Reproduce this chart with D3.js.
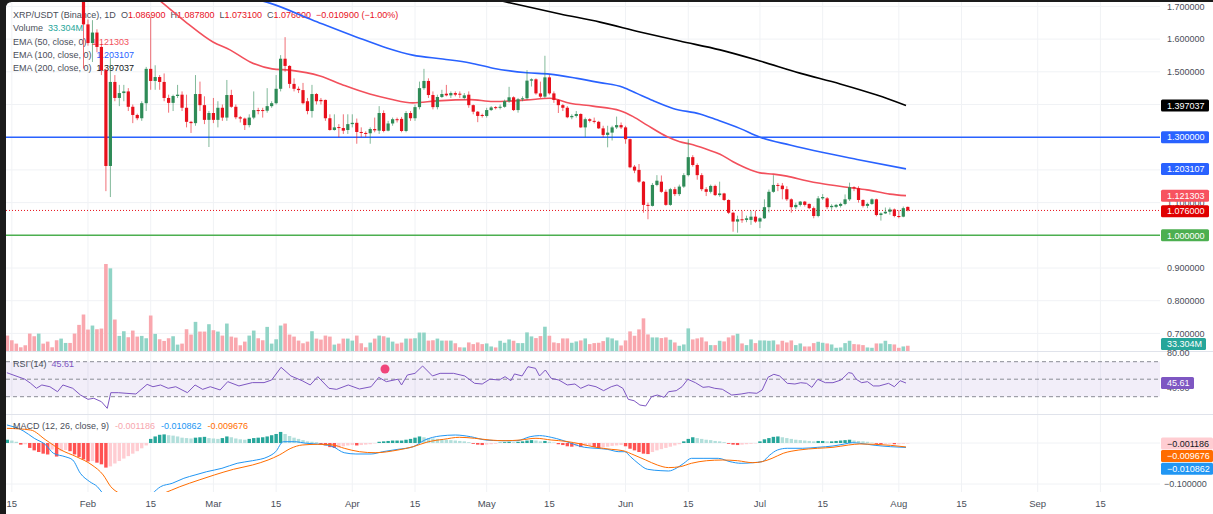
<!DOCTYPE html>
<html lang="en">
<head>
  <meta charset="UTF-8" />
  <title>XRP/USDT 1D</title>
  <script src="https://d3js.org/d3.v7.min.js"></script>
  <style>
    body { margin: 0; background: #1b1b1b; }
    svg text { font-family: "Liberation Sans", Arial, sans-serif; font-size: 9px; }
  </style>
</head>
<body>
  <svg id="chart" width="1213" height="514"></svg>

  <script>
    // ---- data (day 0 = 1 Feb) ----
    const candleStartDay = -1;
    const opens = [1.78,1.645,1.588,1.62,1.576,1.505,1.212,1.469,1.42,1.435,1.44,1.393,1.368,1.358,1.404,1.509,1.472,1.484,1.469,1.42,1.405,1.426,1.43,1.39,1.347,1.343,1.432,1.398,1.353,1.374,1.353,1.39,1.36,1.429,1.393,1.361,1.357,1.337,1.36,1.383,1.383,1.381,1.395,1.404,1.448,1.54,1.518,1.463,1.448,1.444,1.41,1.38,1.432,1.414,1.414,1.358,1.322,1.331,1.328,1.322,1.34,1.344,1.316,1.313,1.312,1.325,1.32,1.374,1.32,1.342,1.355,1.356,1.319,1.374,1.358,1.392,1.45,1.472,1.429,1.392,1.423,1.433,1.428,1.435,1.433,1.42,1.43,1.398,1.378,1.368,1.365,1.383,1.392,1.39,1.393,1.41,1.422,1.383,1.416,1.419,1.473,1.477,1.434,1.424,1.483,1.434,1.414,1.398,1.39,1.361,1.365,1.371,1.33,1.355,1.35,1.347,1.327,1.307,1.314,1.33,1.337,1.33,1.294,1.21,1.2,1.164,1.093,1.09,1.154,1.164,1.133,1.093,1.141,1.126,1.149,1.184,1.239,1.215,1.184,1.141,1.133,1.151,1.123,1.128,1.108,1.069,1.042,1.049,1.047,1.047,1.057,1.042,1.052,1.086,1.133,1.154,1.152,1.141,1.11,1.086,1.093,1.103,1.096,1.083,1.059,1.113,1.113,1.086,1.087,1.09,1.096,1.11,1.147,1.144,1.108,1.09,1.096,1.11,1.062,1.067,1.072,1.079,1.059,1.057,1.0869];
    const highs = [1.79,1.66,1.658,1.63,1.585,1.51,1.542,1.49,1.46,1.46,1.45,1.4,1.372,1.41,1.515,1.668,1.52,1.49,1.495,1.43,1.43,1.46,1.44,1.43,1.35,1.49,1.47,1.425,1.38,1.42,1.41,1.4,1.475,1.445,1.4,1.365,1.36,1.37,1.44,1.39,1.39,1.45,1.41,1.49,1.551,1.606,1.52,1.48,1.455,1.466,1.42,1.46,1.435,1.42,1.415,1.37,1.37,1.34,1.37,1.37,1.37,1.357,1.33,1.318,1.33,1.36,1.395,1.382,1.35,1.36,1.36,1.362,1.38,1.38,1.4,1.47,1.509,1.48,1.44,1.43,1.445,1.46,1.44,1.44,1.44,1.435,1.44,1.4,1.38,1.372,1.39,1.395,1.395,1.4,1.415,1.454,1.425,1.42,1.425,1.505,1.48,1.48,1.47,1.549,1.49,1.44,1.416,1.402,1.395,1.37,1.38,1.373,1.36,1.358,1.36,1.35,1.335,1.335,1.335,1.363,1.345,1.335,1.296,1.215,1.218,1.166,1.1,1.16,1.184,1.183,1.14,1.145,1.148,1.155,1.19,1.294,1.245,1.22,1.19,1.147,1.155,1.155,1.164,1.13,1.11,1.072,1.06,1.075,1.06,1.075,1.075,1.055,1.11,1.14,1.184,1.16,1.16,1.15,1.113,1.1,1.105,1.105,1.097,1.088,1.12,1.126,1.117,1.095,1.096,1.1,1.125,1.161,1.15,1.15,1.11,1.1,1.113,1.112,1.07,1.085,1.085,1.082,1.077,1.088,1.0878];
    const lows = [1.51,1.58,1.53,1.56,1.49,1.135,1.117,1.41,1.395,1.41,1.38,1.343,1.352,1.35,1.38,1.445,1.445,1.445,1.41,1.375,1.38,1.42,1.38,1.33,1.313,1.335,1.38,1.34,1.27,1.343,1.33,1.35,1.35,1.39,1.355,1.345,1.322,1.33,1.355,1.37,1.36,1.375,1.39,1.4,1.44,1.5,1.45,1.44,1.435,1.4,1.37,1.36,1.4,1.4,1.35,1.32,1.32,1.3,1.31,1.31,1.33,1.28,1.3,1.3,1.28,1.315,1.31,1.315,1.318,1.335,1.345,1.315,1.315,1.35,1.35,1.385,1.445,1.42,1.385,1.385,1.42,1.425,1.42,1.425,1.42,1.415,1.39,1.37,1.346,1.36,1.36,1.38,1.385,1.385,1.39,1.405,1.38,1.375,1.41,1.415,1.455,1.43,1.42,1.42,1.43,1.405,1.374,1.38,1.358,1.355,1.36,1.328,1.3,1.345,1.342,1.325,1.3,1.269,1.29,1.325,1.325,1.28,1.205,1.19,1.16,1.069,1.049,1.088,1.15,1.13,1.09,1.09,1.12,1.12,1.145,1.18,1.21,1.17,1.135,1.12,1.128,1.12,1.118,1.105,1.065,1.011,1.008,1.038,1.04,1.032,1.038,1.022,1.05,1.07,1.13,1.135,1.11,1.105,1.069,1.08,1.088,1.088,1.08,1.052,1.055,1.108,1.08,1.078,1.083,1.085,1.092,1.105,1.135,1.1,1.085,1.083,1.093,1.058,1.045,1.065,1.063,1.055,1.052,1.055,1.0731];
    const closes = [1.645,1.588,1.62,1.576,1.505,1.212,1.469,1.42,1.435,1.44,1.393,1.368,1.358,1.404,1.509,1.472,1.484,1.469,1.42,1.405,1.426,1.43,1.39,1.347,1.343,1.432,1.398,1.353,1.374,1.353,1.39,1.36,1.429,1.393,1.361,1.357,1.337,1.36,1.383,1.381,1.381,1.395,1.404,1.448,1.54,1.518,1.463,1.448,1.444,1.404,1.38,1.432,1.41,1.41,1.358,1.322,1.33,1.328,1.32,1.34,1.344,1.316,1.313,1.312,1.325,1.321,1.374,1.319,1.342,1.355,1.353,1.319,1.374,1.358,1.392,1.45,1.472,1.429,1.392,1.423,1.432,1.428,1.435,1.43,1.43,1.428,1.398,1.378,1.365,1.365,1.383,1.391,1.39,1.393,1.41,1.422,1.383,1.416,1.419,1.473,1.477,1.434,1.424,1.483,1.434,1.414,1.398,1.39,1.361,1.365,1.371,1.33,1.355,1.35,1.347,1.327,1.307,1.314,1.33,1.337,1.33,1.294,1.208,1.198,1.164,1.093,1.09,1.154,1.167,1.133,1.093,1.141,1.126,1.149,1.184,1.239,1.215,1.184,1.141,1.133,1.151,1.123,1.128,1.108,1.069,1.042,1.049,1.047,1.052,1.057,1.042,1.052,1.086,1.133,1.154,1.152,1.141,1.11,1.086,1.093,1.103,1.093,1.083,1.059,1.113,1.117,1.086,1.09,1.093,1.096,1.11,1.147,1.144,1.108,1.09,1.096,1.11,1.062,1.067,1.072,1.079,1.059,1.057,1.083,1.076];

    // volume in millions, from day -18
    const volStartDay = -18;
    const volumes = [94,66,46,24,36,106,90,106,46,58,24,66,76,50,50,106,158,220,130,154,132,136,522,496,190,92,120,84,124,88,92,78,214,104,72,62,78,90,40,46,132,100,176,118,118,162,126,118,94,166,88,82,36,58,94,124,78,66,146,46,72,154,166,100,88,64,48,58,120,76,70,94,88,40,46,76,76,64,94,48,24,52,76,94,90,82,58,46,52,76,76,78,112,112,64,66,76,64,64,64,48,24,
      23,53,43,53,43,47,29,23,63,51,71,63,49,49,113,89,79,91,147,93,53,49,77,77,51,59,65,77,43,49,51,61,83,77,65,35,65,119,93,131,197,101,83,83,79,83,69,53,33,41,137,71,77,83,59,37,37,63,59,83,95,105,47,37,71,49,65,65,63,65,41,63,53,65,37,47,29,29,49,57,51,47,41,21,23,49,63,43,41,37,23,21,47,47,63,43,41,21,29,33.304];
    // direction of the January bars (before the first visible candle)
    const janVolUp = [0,0,0,0,0,0,0,1,0,0,0,0,1,1,0,0,0];

    // EMA lines [day, price]
    const ema50 = [[13.8,1.744],[16.7,1.71],[22.1,1.649],[27.9,1.591],[31.7,1.567],[36.2,1.53],[41.1,1.509],[45.1,1.505],[51.8,1.487],[56.9,1.46],[62.9,1.432],[67.4,1.417],[72.5,1.405],[77.9,1.411],[85.3,1.415],[90.4,1.409],[98,1.414],[103.1,1.419],[107.6,1.404],[112.7,1.395],[118.8,1.381],[121.7,1.363],[124.8,1.337],[129.2,1.302],[132.1,1.286],[134.4,1.279],[138.1,1.263],[141.1,1.248],[144,1.225],[147,1.205],[150,1.191],[153,1.187],[156,1.181],[160.4,1.167],[163.4,1.159],[169.4,1.147],[173.9,1.139],[179,1.126],[182.6,1.121303]];
    const ema100 = [[36.2,1.726],[40.6,1.71],[50.2,1.658],[60,1.606],[66.7,1.573],[72.5,1.551],[79.2,1.539],[85.3,1.527],[90.4,1.511],[98,1.497],[103.1,1.493],[109.2,1.48],[114.3,1.467],[119.4,1.453],[122.5,1.434],[126.1,1.412],[130.6,1.388],[136.6,1.371],[140.4,1.353],[145.5,1.327],[150,1.3],[156.7,1.276],[164.1,1.253],[171.7,1.232],[182.6,1.203107]];
    const ema200 = [[87.5,1.732],[96.4,1.704],[105.4,1.677],[114.3,1.652],[123.2,1.622],[132.1,1.594],[141.1,1.567],[150,1.533],[158.9,1.496],[167.9,1.463],[176.1,1.429],[182.6,1.397037]];

    const supportLevel = 1.0;
    const resistLevel = 1.3;

    // RSI (14) [day, value]
    const rsi = [[-18.1,57.4],[-14.1,50],[-12.8,45.3],[-11.5,39.6],[-10.3,43.4],[-8.5,41.4],[-6.8,35.7],[-5.6,43.4],[-3.4,39.6],[-1.7,32],[0,27],[1.3,28.2],[3,24.3],[4.3,16.7],[5.1,34.6],[6.8,34.6],[8.5,33.9],[10.7,33.1],[13.2,44.1],[14.5,41.4],[16.2,43.4],[17.9,39.6],[19.6,41.4],[22.2,34.6],[23.9,43.4],[25.6,38.4],[27.3,41.4],[29.5,37.7],[31.2,47.2],[33.7,42.3],[36.7,46.1],[39.3,46.1],[41,49.1],[43.1,63.6],[45.3,53.7],[47.8,48.3],[49.6,43.4],[51.3,52.9],[53.8,39.6],[55.5,38.4],[58.1,43.4],[60.6,38.8],[63.2,41.4],[64.9,52.1],[66.6,47.2],[69.2,50],[70,43.4],[71.3,54.8],[73,56.7],[74.7,65.1],[76.9,53.7],[78.6,56.7],[81.6,56.7],[84.1,53.7],[86.3,45.3],[88,44.5],[89.7,50],[91.8,49.1],[93.1,52.9],[94.4,48.3],[95.2,56],[96.9,53.7],[98.2,64.3],[99.9,62.4],[100.8,53.7],[102.1,60.5],[103.4,51],[105.1,49.1],[107,43.4],[108.7,44.5],[110,39.6],[111.7,43.4],[113.4,41.4],[115.1,36.9],[116.8,41.4],[118.1,43.4],[119.4,39.6],[120.6,27],[121.9,25.4],[123.2,20.5],[124.5,19.4],[125.8,30],[127.1,31.9],[128.6,29.3],[129.6,35.7],[131.3,36.9],[132.6,41.4],[133.9,49.9],[135.6,46],[137.3,40.7],[138.6,41.4],[139.9,39.6],[141.6,38.5],[143.7,31.9],[145.8,33.1],[147.5,34.6],[149.3,33.9],[150.5,37.7],[151.8,52.2],[153.1,55.6],[154.4,53.7],[156.1,45.3],[157.8,44.5],[159.1,46],[160.4,45.3],[161.6,40.7],[162.9,49.9],[164.6,46],[166.3,46],[168.1,49.1],[169.8,57.5],[170.6,56.7],[171.5,49.9],[172.7,46],[174,47.2],[175.3,42.3],[176.6,42.3],[178.7,45.3],[180,41.4],[181.3,48.3],[182.6,45.61]];
    const rsiAlert = [66.3, 61.7];

    // MACD (12, 26, 9) [day, value]
    const macdLine = [[-18.1,0.044],[-14.5,0.03],[-12,0.0115],[-9.4,-0.0049],[-7.7,-0.0251],[-5.1,-0.0334],[-3.4,-0.0415],[-1.7,-0.0739],[0.4,-0.0944],[2.1,-0.1066],[3.3,-0.1227],[5,-0.14],[7,-0.152],[9,-0.156],[11,-0.15],[13,-0.135],[14.4,-0.1227],[16.2,-0.1066],[18.8,-0.0983],[21.4,-0.0861],[23.9,-0.078],[26.5,-0.07],[29.9,-0.0617],[33.3,-0.0495],[36.7,-0.0432],[40.2,-0.0334],[41.9,-0.0212],[43.6,0.0032],[46.1,0.0032],[48.7,-0.0007],[52.1,-0.0032],[54.7,-0.009],[57.2,-0.0237],[59.8,-0.0268],[63.2,-0.0268],[65.8,-0.0212],[69.2,-0.0154],[72.6,-0.009],[75.2,0.0073],[78.6,0.0171],[82,0.0195],[85.4,0.0154],[88.8,0.0073],[92.3,0.0056],[95.7,0.0056],[98.7,0.0154],[100.8,0.018],[103.4,0.0139],[105.7,0.0073],[108.3,-0.0024],[110.8,-0.0105],[113.4,-0.0129],[115.9,-0.0154],[118.5,-0.0212],[119.8,-0.0212],[121.1,-0.0334],[122.8,-0.0495],[124.9,-0.0641],[127.9,-0.0675],[129.6,-0.0683],[131.3,-0.0617],[133,-0.0495],[134.7,-0.0374],[137.3,-0.0374],[140.7,-0.0374],[143.3,-0.0455],[145.8,-0.0495],[148.4,-0.048],[150.5,-0.0455],[152.2,-0.0293],[153.9,-0.0171],[156.1,-0.0129],[159.5,-0.0129],[162.9,-0.0105],[166.3,-0.0073],[168.9,-0.0024],[170.6,0.0007],[172.3,-0.0007],[175.7,-0.0057],[179.2,-0.009],[182.6,-0.010862]];
    const signalLine = [[-18.1,0.0358],[-12.8,0.0317],[-9.4,0.0073],[-6,-0.0171],[-2.6,-0.0334],[0.9,-0.0537],[3.4,-0.078],[5.1,-0.1066],[7,-0.1227],[9,-0.132],[11,-0.137],[13,-0.136],[15,-0.13],[16.9,-0.1227],[20.5,-0.1066],[24.8,-0.0902],[28.2,-0.078],[32.5,-0.0641],[36.7,-0.0537],[40.2,-0.0415],[42.7,-0.0293],[45.3,-0.0129],[47.8,-0.0049],[51.3,-0.0032],[54.7,-0.0049],[57.2,-0.0129],[60.6,-0.0212],[64.1,-0.0237],[69.2,-0.0171],[72.6,-0.009],[76,0.0032],[79.4,0.009],[82.9,0.0139],[86.3,0.0115],[89.7,0.0073],[93.1,0.0056],[96.5,0.0073],[100,0.0115],[103.4,0.0073],[106.7,0.004],[110,-0.0024],[113.4,-0.0105],[116.8,-0.0154],[119.4,-0.0187],[121.9,-0.0293],[124.5,-0.0415],[127.1,-0.0537],[129.6,-0.06],[132.2,-0.0577],[134.7,-0.0495],[138.1,-0.0432],[141.6,-0.0415],[145,-0.0432],[148.4,-0.048],[150.5,-0.0455],[152.7,-0.0374],[155.2,-0.0251],[158.7,-0.0171],[162.9,-0.0129],[166.3,-0.0105],[169.8,-0.0049],[172.3,-0.0024],[175.7,-0.0032],[179.2,-0.0057],[182.6,-0.009676]];
    // histogram, one value per day from day -18
    const macdHist = [0.008,0.006,0.003,-0.004,-0.003,-0.012,-0.018,-0.022,-0.026,-0.028,
      -0.016,-0.033,-0.02,-0.017,-0.02,-0.028,-0.034,-0.04,-0.045,-0.044,
      -0.048,-0.052,-0.06,-0.057,-0.05,-0.044,-0.038,-0.032,-0.026,-0.02,
      -0.013,-0.006,0.01,0.016,0.02,0.021,0.019,0.018,0.016,0.013,
      0.012,0.011,0.013,0.014,0.015,0.012,0.011,0.01,0.012,0.016,
      0.014,0.011,0.009,0.008,0.01,0.012,0.013,0.014,0.016,0.019,
      0.022,0.027,0.022,0.017,0.013,0.01,0.007,0.004,0.003,0.002,
      -0.003,-0.006,-0.01,-0.012,-0.011,-0.008,-0.006,-0.005,-0.006,-0.005,
      -0.004,-0.003,-0.001,0.003,0.004,0.005,0.006,0.006,0.006,0.008,
      0.01,0.013,0.016,0.014,0.012,0.011,0.01,0.009,0.008,0.007,
      0.006,0.005,0.004,0.002,-0.002,-0.004,-0.005,-0.004,-0.003,-0.002,
      0.001,0.002,0.003,0.002,0.003,0.004,0.006,0.007,0.006,0.004,
      0.005,0.003,0.001,-0.003,-0.005,-0.008,-0.009,-0.008,-0.01,-0.008,
      -0.007,-0.01,-0.012,-0.011,-0.009,-0.007,-0.006,-0.005,-0.008,-0.014,
      -0.018,-0.022,-0.026,-0.027,-0.022,-0.018,-0.015,-0.012,-0.009,-0.006,
      -0.003,0.004,0.01,0.014,0.012,0.01,0.008,0.007,0.005,0.004,
      0.002,-0.002,-0.004,-0.005,-0.004,-0.003,-0.002,-0.001,0.004,0.009,
      0.012,0.015,0.016,0.014,0.012,0.01,0.008,0.007,0.006,0.005,
      0.004,0.005,0.005,0.004,0.004,0.005,0.006,0.007,0.008,0.006,
      0.005,0.004,0.003,0.001,-0.002,-0.003,-0.002,-0.002,-0.003,-0.003,
      -0.002,-0.001186];

    const priceTicks = [0.7,0.8,0.9,1.0,1.1,1.2,1.3,1.4,1.5,1.6,1.7];
    const rsiTicks = [80, 40];
    const macdTicks = [0, -0.1];
    const timeTicks = ["2025-01-15","2025-02-01","2025-02-15","2025-03-01","2025-03-15","2025-04-01","2025-04-15","2025-05-01","2025-05-15","2025-06-01","2025-06-15","2025-07-01","2025-07-15","2025-08-01","2025-08-15","2025-09-01","2025-09-15"];

    // ---- layout ----
    const W = 1213, H = 514;
    const L = 6, R = 1160;
    const DAY = 86400000;
    const base = Date.UTC(2025, 1, 1);
    const dt = d => new Date(base + d * DAY);

    const x = d3.scaleUtc().domain([dt(-18.3), dt(239.3)]).range([L, R]);
    const yP = d3.scaleLinear().domain([0.7, 1.7]).range([333.4, 6.4]);
    const yV = d3.scaleLinear().domain([0, 522]).range([351.3, 264]);
    const yR = d3.scaleLinear().domain([30, 70]).range([396.7, 361.7]);
    const yM = d3.scaleLinear().domain([-0.1, 0]).range([484, 443]);

    const C = {
      up: "#2e8b57", down: "#e8101c",
      volUp: "#90d4c6", volDown: "#f9a7ae",
      grid: "#f0f2f5", text: "#4a4e59",
      ema50: "#f2505c", ema100: "#2962ff", ema200: "#000000",
      rsi: "#7e57c2", macd: "#2196f3", signal: "#ff6d00",
      hUp: "#26a69a", hUpFade: "#b2dfdb", hDn: "#ff5252", hDnFade: "#ffcdd2"
    };

    const svg = d3.select("#chart");
    svg.append("rect").attr("width", W).attr("height", H).attr("fill", "#1b1b1b");
    svg.append("path").attr("d", `M${L},8 Q${L},2 ${L + 6},2 H${W} V${H} H${L} Z`).attr("fill", "#fff");

    const defs = svg.append("defs");
    [["cMain", 2, 349], ["cRsi", 352, 62], ["cMacd", 415, 77]].forEach(([id, y0, h]) => {
      defs.append("clipPath").attr("id", id).append("rect")
        .attr("x", L).attr("y", y0).attr("width", R - L).attr("height", h);
    });

    // grid
    const tickDates = timeTicks.map(s => new Date(s + "T00:00:00Z"));
    svg.append("g").selectAll("line").data(tickDates).join("line")
      .attr("x1", d => x(d)).attr("x2", d => x(d)).attr("y1", 2).attr("y2", 492)
      .attr("stroke", C.grid);
    svg.append("g").selectAll("line").data(priceTicks).join("line")
      .attr("x1", L).attr("x2", R).attr("y1", d => yP(d)).attr("y2", d => yP(d))
      .attr("stroke", C.grid);
    svg.append("g").selectAll("line").data(macdTicks).join("line")
      .attr("x1", L).attr("x2", R).attr("y1", d => yM(d)).attr("y2", d => yM(d))
      .attr("stroke", C.grid);
    [351.5, 414.5].forEach(yy => {
      svg.append("line").attr("x1", L).attr("x2", W).attr("y1", yy).attr("y2", yy)
        .attr("stroke", "#e0e3eb");
    });

    // legend (main pane)
    const last = closes.length - 1;
    const f6 = v => v.toFixed(6);
    const chg = closes[last] - opens[last];
    const leg = svg.append("g").attr("fill", C.text);
    const l1 = leg.append("text").attr("x", 13).attr("y", 18);
    l1.append("tspan").text("XRP/USDT (Binance), 1D");
    [["O", opens[last]], ["H", highs[last]], ["L", lows[last]], ["C", closes[last]]].forEach(([k, v]) => {
      l1.append("tspan").attr("dx", 5).text(k);
      l1.append("tspan").attr("fill", C.down).text(f6(v));
    });
    l1.append("tspan").attr("dx", 5).attr("fill", C.down)
      .text(`${f6(chg).replace("-", "\u2212")} (${(chg / opens[last] * 100).toFixed(2).replace("-", "\u2212")}%)`);
    const legRows = [
      ["Volume", (volumes[volumes.length - 1]).toFixed(3) + "M", "#26a69a"],
      ["EMA (50, close, 0)", f6(ema50[ema50.length - 1][1]), C.ema50],
      ["EMA (100, close, 0)", f6(ema100[ema100.length - 1][1]), C.ema100],
      ["EMA (200, close, 0)", f6(ema200[ema200.length - 1][1]), "#131722"]
    ];
    legRows.forEach(([k, v, col], i) => {
      const t = leg.append("text").attr("x", 13).attr("y", 31.3 + i * 13.3);
      t.append("tspan").text(k);
      t.append("tspan").attr("dx", 5).attr("fill", col).text(v);
    });

    // main pane
    const main = svg.append("g").attr("clip-path", "url(#cMain)");

    main.append("g").selectAll("rect").data(volumes).join("rect")
      .attr("x", (v, i) => x(dt(volStartDay + i)) - 1.8)
      .attr("width", 3.6)
      .attr("y", v => yV(v))
      .attr("height", v => yV(0) - yV(v))
      .attr("fill", (v, i) => {
        const d = volStartDay + i, ci = d - candleStartDay;
        const up = ci < 0 ? janVolUp[i] === 1 : closes[ci] >= opens[ci];
        return up ? C.volUp : C.volDown;
      });

    [[resistLevel, C.ema100], [supportLevel, "#4caf50"]].forEach(([lv, col]) => {
      main.append("line").attr("x1", L).attr("x2", R).attr("y1", yP(lv)).attr("y2", yP(lv))
        .attr("stroke", col).attr("stroke-width", 1.4);
    });
    main.append("line").attr("x1", L).attr("x2", R)
      .attr("y1", yP(closes[last])).attr("y2", yP(closes[last]))
      .attr("stroke", C.down).attr("stroke-dasharray", "1,2");

    const emaLine = d3.line().x(p => x(dt(p[0]))).y(p => yP(p[1])).curve(d3.curveMonotoneX);
    [[ema50, C.ema50], [ema100, C.ema100], [ema200, C.ema200]].forEach(([pts, col]) => {
      main.append("path").attr("d", emaLine(pts)).attr("fill", "none")
        .attr("stroke", col).attr("stroke-width", 1.6);
    });

    const candles = closes.map((c, i) => ({ d: candleStartDay + i, o: opens[i], h: highs[i], l: lows[i], c }));
    const cg = main.append("g").selectAll("g").data(candles).join("g");
    cg.append("line")
      .attr("x1", d => x(dt(d.d))).attr("x2", d => x(dt(d.d)))
      .attr("y1", d => yP(d.h)).attr("y2", d => yP(d.l))
      .attr("stroke", d => d.c >= d.o ? C.up : C.down)
      .attr("stroke-opacity", 0.6);
    cg.append("rect")
      .attr("x", d => x(dt(d.d)) - 1.6).attr("width", 3.2)
      .attr("y", d => yP(Math.max(d.o, d.c)))
      .attr("height", d => Math.max(1, Math.abs(yP(d.o) - yP(d.c))))
      .attr("fill", d => d.c >= d.o ? C.up : C.down);

    // RSI pane
    const rp = svg.append("g").attr("clip-path", "url(#cRsi)");
    rp.append("rect").attr("x", L).attr("width", R - L)
      .attr("y", yR(70)).attr("height", yR(30) - yR(70))
      .attr("fill", C.rsi).attr("fill-opacity", 0.1);
    [70, 50, 30].forEach(v => {
      rp.append("line").attr("x1", L).attr("x2", R).attr("y1", yR(v)).attr("y2", yR(v))
        .attr("stroke", "#8a8d96").attr("stroke-dasharray", "4,3");
    });
    rp.append("path")
      .attr("d", d3.line().x(p => x(dt(p[0]))).y(p => yR(p[1]))(rsi))
      .attr("fill", "none").attr("stroke", C.rsi).attr("stroke-width", 1);
    rp.append("circle").attr("cx", x(dt(rsiAlert[0]))).attr("cy", yR(rsiAlert[1]))
      .attr("r", 4.5).attr("fill", "#f0457a");
    const rl = svg.append("text").attr("x", 13).attr("y", 366.5).attr("fill", C.text);
    rl.append("tspan").text("RSI (14)");
    rl.append("tspan").attr("dx", 5).attr("fill", C.rsi).text(rsi[rsi.length - 1][1].toFixed(2));

    // MACD pane
    const mp = svg.append("g").attr("clip-path", "url(#cMacd)");
    mp.append("g").selectAll("rect").data(macdHist).join("rect")
      .attr("x", (v, i) => x(dt(volStartDay + i)) - 1.7)
      .attr("width", 3.4)
      .attr("y", v => yM(Math.max(0, v)))
      .attr("height", v => Math.abs(yM(v) - yM(0)))
      .attr("fill", (v, i) => {
        const prev = i > 0 ? macdHist[i - 1] : v;
        if (v >= 0) return v >= prev ? C.hUp : C.hUpFade;
        return v < prev ? C.hDn : C.hDnFade;
      });
    const mLine = d3.line().x(p => x(dt(p[0]))).y(p => yM(p[1])).curve(d3.curveMonotoneX);
    mp.append("path").attr("d", mLine(macdLine)).attr("fill", "none").attr("stroke", C.macd).attr("stroke-width", 1);
    mp.append("path").attr("d", mLine(signalLine)).attr("fill", "none").attr("stroke", C.signal).attr("stroke-width", 1);
    const ml = svg.append("text").attr("x", 13).attr("y", 429).attr("fill", C.text);
    ml.append("tspan").text("MACD (12, 26, close, 9)");
    [[macdHist[macdHist.length - 1], "#f7a6ae"], [macdLine[macdLine.length - 1][1], C.macd], [signalLine[signalLine.length - 1][1], C.signal]]
      .forEach(([v, col]) => ml.append("tspan").attr("dx", 6).attr("fill", col).text(f6(v)));

    // right axis labels (the zero MACD tick sits under the value boxes)
    const ax = svg.append("g").attr("fill", C.text);
    priceTicks.forEach(v => ax.append("text").attr("x", 1167).attr("y", yP(v) + 3.2).text(f6(v)));
    rsiTicks.forEach(v => ax.append("text").attr("x", 1167).attr("y", yR(v) + 3.2).text(v.toFixed(2)));
    macdTicks.filter(v => v !== 0).forEach(v => ax.append("text").attr("x", 1164).attr("y", yM(v) + 3.2).text(f6(v).replace("-", "\u2212")));

    function box(yc, txt, bg, fg, w) {
      const g = svg.append("g");
      g.append("rect").attr("x", 1161).attr("y", yc - 6).attr("width", w).attr("height", 12)
        .attr("rx", 1.5).attr("fill", bg);
      g.append("text").attr("x", 1167).attr("y", yc + 3.2).attr("fill", fg).text(txt);
    }
    box(yP(ema200[ema200.length - 1][1]), f6(ema200[ema200.length - 1][1]), "#000", "#fff", 48);
    box(yP(resistLevel), f6(resistLevel), C.ema100, "#fff", 48);
    box(yP(ema100[ema100.length - 1][1]), f6(ema100[ema100.length - 1][1]), C.ema100, "#fff", 48);
    box(yP(ema50[ema50.length - 1][1]), f6(ema50[ema50.length - 1][1]), "#f7525f", "#fff", 48);
    box(yP(closes[last]) + 0.8, f6(closes[last]), "#e00000", "#fff", 48);
    box(yP(supportLevel), f6(supportLevel), "#4caf50", "#fff", 48);
    box(Math.min(yV(volumes[volumes.length - 1]), 344), volumes[volumes.length - 1].toFixed(3) + "M", "#26a69a", "#fff", 45);
    box(yR(rsi[rsi.length - 1][1]), rsi[rsi.length - 1][1].toFixed(2), C.rsi, "#fff", 33);

    // stacked MACD value labels
    const mBoxes = [
      [macdHist[macdHist.length - 1], "#ffcdd2", "#131722"],
      [signalLine[signalLine.length - 1][1], C.signal, "#fff"],
      [macdLine[macdLine.length - 1][1], C.macd, "#fff"]
    ];
    let prevBottom = -Infinity;
    mBoxes.forEach(([v, bg, fg]) => {
      const yc = Math.max(yM(v), prevBottom + 6.6);
      box(yc, f6(v).replace("-", "\u2212"), bg, fg, 52);
      prevBottom = yc + 6;
    });

    // time axis
    svg.append("g").selectAll("text").data(tickDates).join("text")
      .attr("x", d => x(d)).attr("y", 506.5).attr("text-anchor", "middle")
      .attr("fill", C.text).style("font-size", "9.5px")
      .text(d => d.getUTCDate() === 1 ? d3.utcFormat("%b")(d) : d.getUTCDate());
  </script>
</body>
</html>
